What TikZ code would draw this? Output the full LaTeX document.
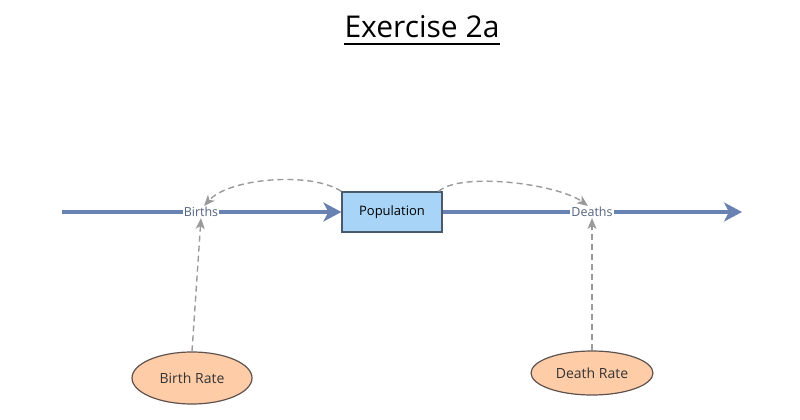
\documentclass[tikz,border=0pt]{standalone}
\usepackage{fontspec}
\setmainfont{Open Sans}
\usetikzlibrary{arrows.meta,shapes.geometric}
\definecolor{flowblue}{HTML}{6A82B2}
\definecolor{stockfill}{HTML}{A8D4F7}
\definecolor{stockedge}{HTML}{4A5A6A}
\definecolor{auxfill}{HTML}{FFCCA8}
\definecolor{auxedge}{HTML}{5E524E}
\definecolor{linkgray}{HTML}{9A9A9A}
\definecolor{valvetext}{HTML}{55657F}

\begin{document}
\begin{tikzpicture}[x=1pt,y=-1pt,
  stock node/.style={rectangle,draw=stockedge,fill=stockfill,line width=1.2pt,
    minimum width=100pt,minimum height=40pt,font=\fontsize{13}{15}\selectfont},
  valve node/.style={fill=white,inner sep=1pt,text=valvetext,font=\fontsize{12.5}{14}\selectfont},
  aux node/.style={ellipse,draw=auxedge,fill=auxfill,line width=1.2pt,
    text=black!80,font=\fontsize{14}{16}\selectfont},
  flow/.style={-{Stealth[length=18pt,width=19pt,inset=5pt]},draw=flowblue,line width=3.5pt},
  link/.style={-{Stealth[length=11pt,width=9pt,inset=3pt]},draw=linkgray,
    dash pattern=on 6pt off 4pt,line width=1.4pt}]

  \useasboundingbox (0,0) rectangle (800,420);

  \node[inner sep=0pt,font=\fontsize{30}{34}\selectfont] (title) at (422,27) {Exercise 2a};
  \draw[line width=1.8pt] ([yshift=-6pt]title.base west) -- ([yshift=-6pt]title.base east);

  \coordinate (source) at (62,212);
  \coordinate (sink) at (742,212);
  \node[stock node] (pop) at (392,212) {Population};
  \node[valve node] (births) at (201,212) {Births};
  \node[valve node] (deaths) at (592,212) {Deaths};
  \node[aux node,minimum width=120pt,minimum height=52pt] (brate) at (192,378) {Birth Rate};
  \node[aux node,minimum width=122pt,minimum height=44pt] (drate) at (592,373) {Death Rate};

  % stock and flows
  \draw[flow] (source) -- (births) -- (pop);
  \draw[flow] (pop) -- (deaths) -- (sink);

  % information links
  \draw[link] (pop.north west) .. controls +(-30,-20) and +(25,-28) .. ([xshift=3pt]births.north);
  \draw[link] ([xshift=-4pt]pop.north east) .. controls +(22,-20) and +(-30,-22) .. ([xshift=-4pt]deaths.north);
  \draw[link] (brate.north) -- (births.south);
  \draw[link] (drate.north) -- (deaths.south);
\end{tikzpicture}
\end{document}
